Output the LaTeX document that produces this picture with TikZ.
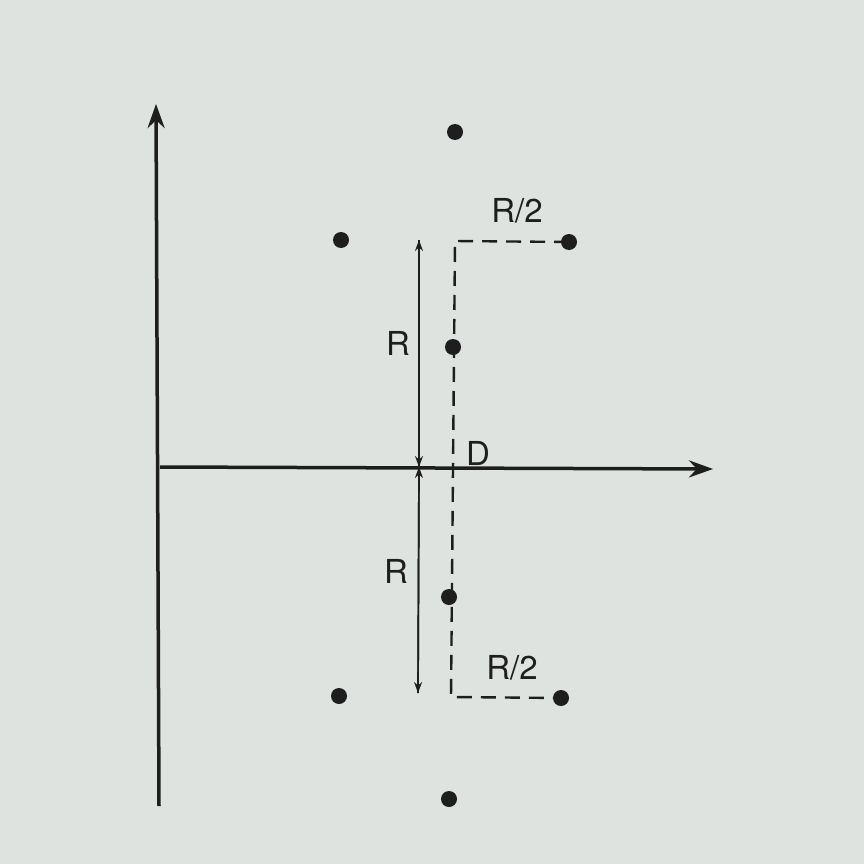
\documentclass[tikz,border=0pt]{standalone}
\usepackage{fontspec}
\setmainfont{TeX Gyre Heros}
\usetikzlibrary{arrows.meta}
\definecolor{bg}{HTML}{DEE3E0}
\definecolor{ink}{HTML}{1E1E1E}
\tikzset{
  dot/.style={circle,fill=ink,inner sep=0pt,minimum size=16pt},
  axis/.style={draw=ink,line width=3.5pt,-{Stealth[length=24pt,width=17pt]}},
  dimline/.style={draw=ink,line width=1.7pt,-{Stealth[length=11pt,width=8pt]}},
  dashline/.style={draw=ink,line width=2.4pt,dash pattern=on 15pt off 9pt},
  lab/.style={text=ink,font=\fontsize{33}{36}\selectfont,inner sep=0pt}
}
\begin{document}
\begin{tikzpicture}[x=1pt,y=-1pt]
\fill[bg] (0,0) rectangle (864,864);
\useasboundingbox (0,0) rectangle (864,864);
% axes
\coordinate (yb) at (159,806);
\coordinate (yt) at (156,104);
\coordinate (xl) at (160,467);
\coordinate (xr) at (713,469);
\draw[axis] (yb) -- (yt);
\draw[axis] (xl) -- (xr);
% dots
\node[dot] (d1) at (455,132) {};
\node[dot] (d2) at (341,240) {};
\node[dot] (d3) at (569,242) {};
\node[dot] (d4) at (453,347) {};
\node[dot] (d5) at (449,597) {};
\node[dot] (d6) at (339,696) {};
\node[dot] (d7) at (561,698) {};
\node[dot] (d8) at (449,799) {};
% dashed construction
\coordinate (ct) at (455,241);
\coordinate (cb) at (451,697);
\draw[dashline] (d3.center) -- (ct) -- (cb) -- (d7.center);
% dimension lines
\coordinate (rt) at (419,240);
\coordinate (rm) at (419,467);
\coordinate (rb) at (418,693);
\draw[dimline] (rm) -- (rt);
\draw[dimline] (rt) -- (rm);
\draw[dimline] (rm) -- (rb);
\draw[dimline] (rb) -- (rm);
% labels
\node[lab] (lR1) at (398,343) {R};
\node[lab] (lR2) at (396,571) {R};
\node[lab] (lh1) at (517,211) {R/2};
\node[lab] (lh2) at (512,668) {R/2};
\node[lab] (lD) at (478,453) {D};
\end{tikzpicture}
\end{document}
